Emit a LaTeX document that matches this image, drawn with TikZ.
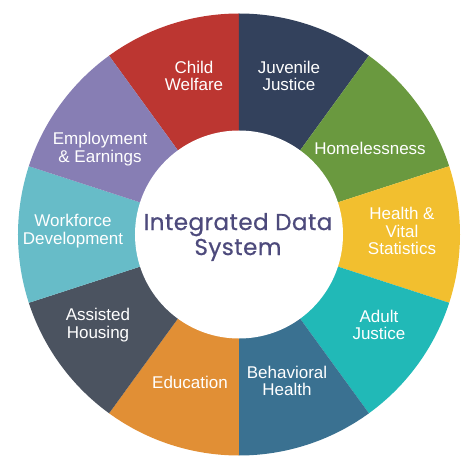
\documentclass[tikz,border=0pt]{standalone}
\usepackage{fontspec}
\setmainfont{Liberation Sans}
\newfontfamily\hubfont{Poppins}[LetterSpace=2, FakeBold=0.6]
\definecolor{welfare}{HTML}{BC3631}
\definecolor{juvenile}{HTML}{33415C}
\definecolor{homeless}{HTML}{6A993F}
\definecolor{health}{HTML}{F2BF2F}
\definecolor{adult}{HTML}{21B9B7}
\definecolor{behavioral}{HTML}{3A7191}
\definecolor{education}{HTML}{E18F35}
\definecolor{housing}{HTML}{4B5360}
\definecolor{workforce}{HTML}{67BCC8}
\definecolor{employment}{HTML}{877EB4}
\definecolor{hubpurple}{HTML}{4D4A7C}
\begin{document}
\begin{tikzpicture}[
	seglabel/.style={text=white, align=center, inner sep=0pt, font=\fontsize{17}{17.5}\selectfont},
	hubtext/.style={text=hubpurple, align=center, inner sep=0pt, font=\hubfont\fontsize{23}{25}\selectfont}]
	\useasboundingbox (-239pt,-236.5pt) rectangle (235pt,234.5pt);
	% ring of ten sectors, 36 degrees each
	\foreach \a/\col/\lx/\ly/\nm/\txt in {
		90/welfare/-45/158.5/child/{Child\\Welfare},
		54/juvenile/50/158.5/juvenile/{Juvenile\\Justice},
		18/homeless/131/86.5/homeless/{Homelessness},
		-18/health/163/3.5/health/{Health \&\\Vital\\Statistics},
		-54/adult/140/-90.5/adult/{Adult\\Justice},
		-90/behavioral/48/-146.5/behavioral/{Behavioral\\Health},
		-126/education/-49/-147.5/education/{Education},
		-162/housing/-141/-90.5/housing/{Assisted\\Housing},
		162/workforce/-166/3.5/workforce/{Workforce\\Development},
		126/employment/-139/85.5/employment/{Employment\\\& Earnings}}
	{
		\fill[\col] (0,0) -- (\a:221pt) arc[start angle=\a, end angle=\a+36, radius=221pt] -- cycle;
		\node[seglabel] (\nm) at (\lx pt,\ly pt) {\txt};
	}
	\fill[white] (0,0) circle[radius=104pt];
	\node[hubtext] (hub) at (-1pt,-2.5pt) {Integrated Data\\System};
\end{tikzpicture}
\end{document}
